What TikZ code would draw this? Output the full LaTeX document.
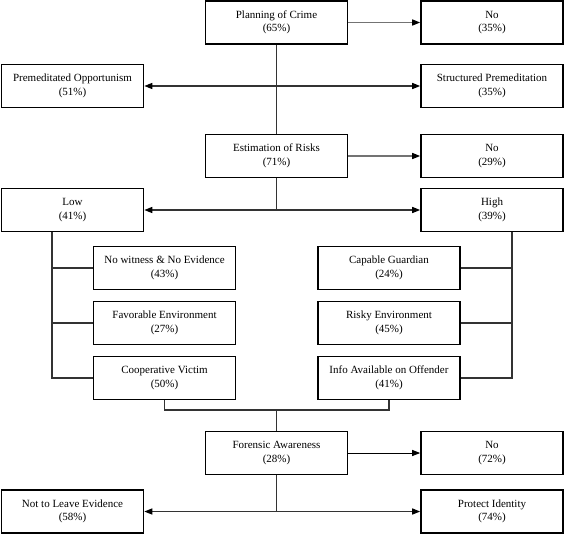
\documentclass[tikz,border=0pt]{standalone}
\usepackage{fontspec}
\setmainfont{Liberation Serif}
\usetikzlibrary{arrows.meta}
\begin{document}
\begin{tikzpicture}[x=1pt,y=-1pt,
  cbox/.style={draw=black,line width=1.6pt,fill=white,minimum width=142pt,minimum height=43pt,
    inner sep=0pt,align=center,font=\fontsize{11}{13.5}\selectfont},
  conn/.style={draw=black!80,line width=1.3pt},
  arr/.style={conn,-{Triangle[length=8pt,width=6pt,color=black]}},
  darr/.style={conn,{Triangle[length=8pt,width=6pt,color=black]}-{Triangle[length=8pt,width=6pt,color=black]}}]
\useasboundingbox (0,0) rectangle (564,533);
% nodes
\node[cbox] (plan) at (276.5,22.5) {Planning of Crime\\(65\%)};
\node[cbox] (no1) at (492,22.5) {No\\(35\%)};
\node[cbox] (prem) at (72.5,86) {Premeditated Opportunism\\(51\%)};
\node[cbox] (struct) at (492,86) {Structured Premeditation\\(35\%)};
\node[cbox] (est) at (276.5,156) {Estimation of Risks\\(71\%)};
\node[cbox] (no2) at (492,156) {No\\(29\%)};
\node[cbox] (low) at (72.5,210) {Low\\(41\%)};
\node[cbox] (high) at (492,210) {High\\(39\%)};
\node[cbox] (nw) at (164.5,268) {No witness \& No Evidence\\(43\%)};
\node[cbox] (fav) at (164.5,323) {Favorable Environment\\(27\%)};
\node[cbox] (coop) at (164.5,378) {Cooperative Victim\\(50\%)};
\node[cbox] (cap) at (389,268) {Capable Guardian\\(24\%)};
\node[cbox] (risky) at (389,323) {Risky Environment\\(45\%)};
\node[cbox] (info) at (389,378) {Info Available on Offender\\(41\%)};
\node[cbox] (for) at (276.5,453) {Forensic Awareness\\(28\%)};
\node[cbox] (no3) at (492,453) {No\\(72\%)};
\node[cbox] (notl) at (72.5,511.5) {Not to Leave Evidence\\(58\%)};
\node[cbox] (prot) at (492,511.5) {Protect Identity\\(74\%)};
% coordinates
\coordinate (lx) at (52,378);
\coordinate (rx) at (512,378);
\coordinate (j2) at (276.5,210);
\coordinate (j3) at (276.5,410);
\coordinate (j4) at (276.5,511.5);
% connectors
\draw[arr,draw=black!55] (plan) -- (no1);
\draw[conn] (plan.south) -- (est.north);
\draw[darr] (prem.east) -- (struct.west);
\draw[arr,draw=black!55] (est) -- (no2);
\draw[conn] (est.south) -- (j2);
\draw[arr] (j2) -- (low.east);
\draw[arr] (j2) -- (high.west);
\draw[conn] (low.south -| lx) -- (lx) -- (coop.west);
\draw[conn] (nw.west) -- (nw.west -| lx);
\draw[conn] (fav.west) -- (fav.west -| lx);
\draw[conn] (high.south -| rx) -- (rx) -- (info.east);
\draw[conn] (cap.east) -- (cap.east -| rx);
\draw[conn] (risky.east) -- (risky.east -| rx);
\draw[conn] (coop.south) -- (coop.south |- j3) -- (info.south |- j3) -- (info.south);
\draw[conn] (j3) -- (for.north);
\draw[arr,line width=1pt,draw=black] (for) -- (no3);
\draw[conn] (for.south) -- (j4);
\draw[arr] (j4) -- (notl.east);
\draw[arr] (j4) -- (prot.west);
\end{tikzpicture}
\end{document}
